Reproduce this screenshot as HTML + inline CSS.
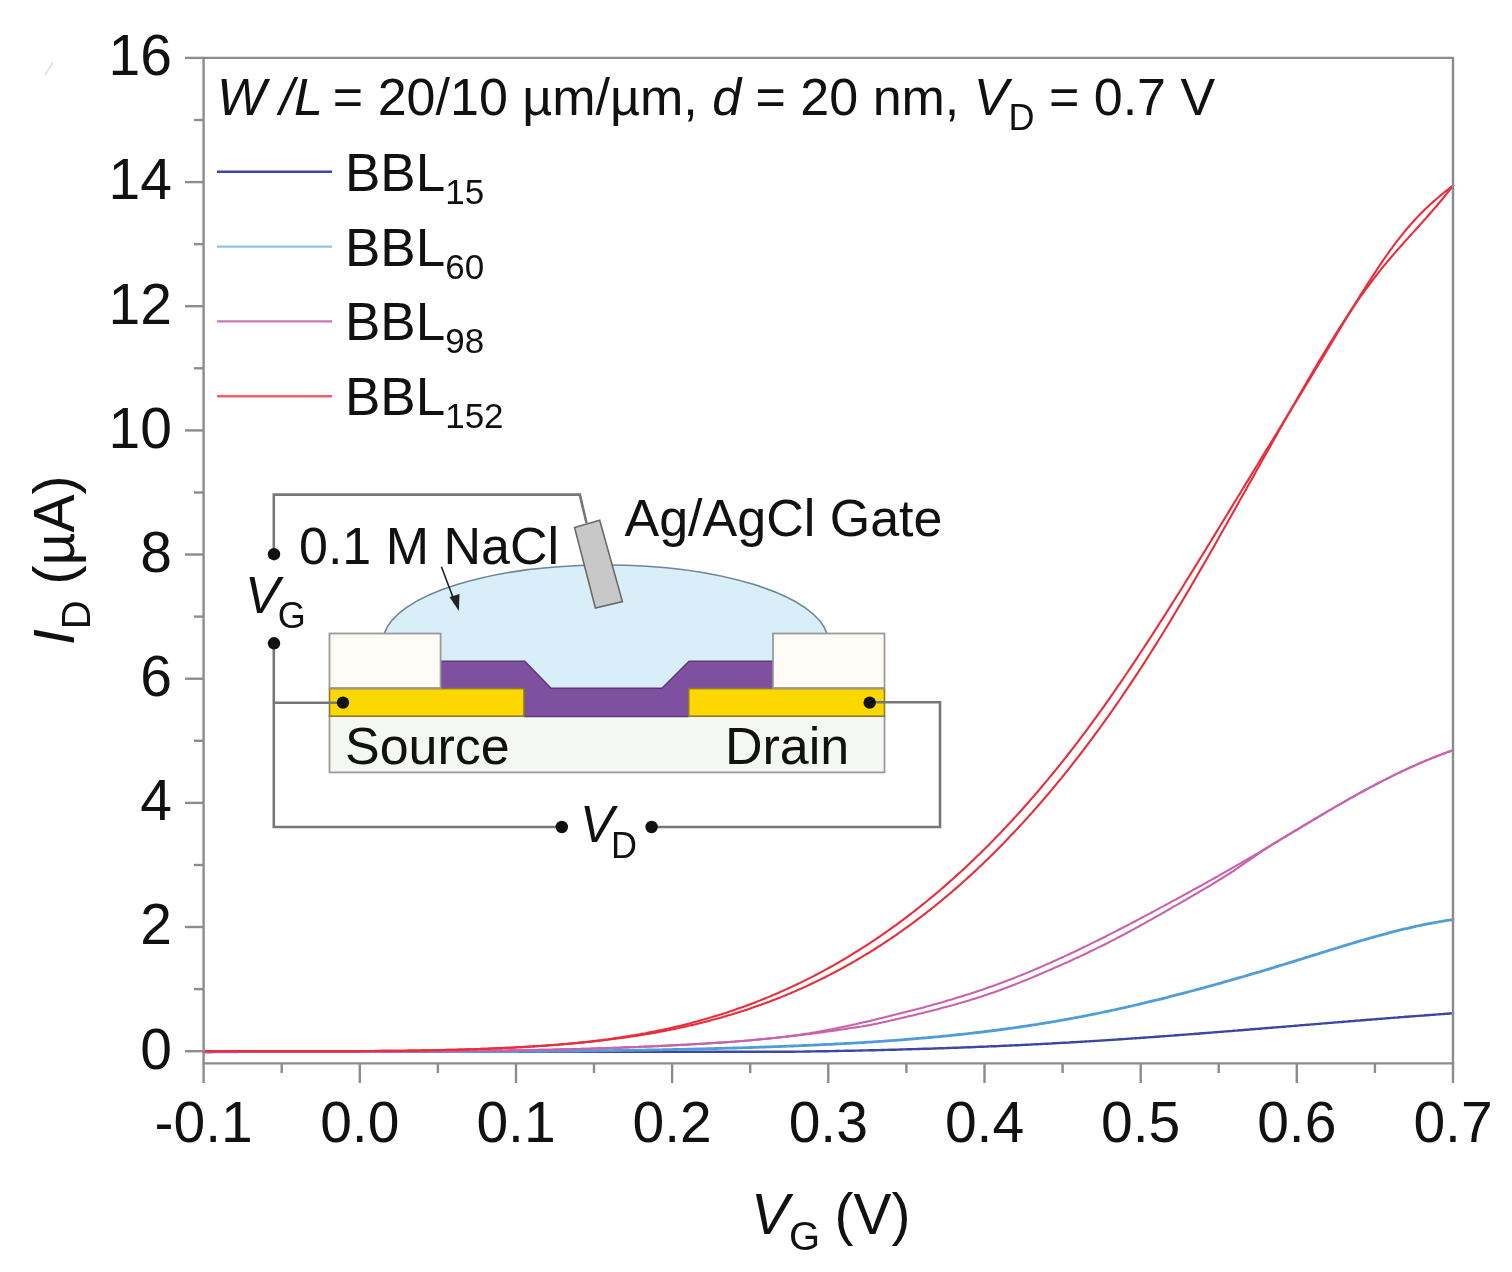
<!DOCTYPE html><html><head><meta charset="utf-8"><title>ID vs VG</title><style>html,body{margin:0;padding:0;background:#fff;overflow:hidden}svg{display:block}</style></head><body>
<svg width="1512" height="1272" viewBox="0 0 1512 1272" font-family="'Liberation Sans', Arial, Helvetica, sans-serif">
<rect width="1512" height="1272" fill="#fff"/>
<path d="M45 75 L53 62" stroke="#e6e6e6" stroke-width="2"/>
<path d="M384.3 633.5 A222.7 77 0 0 1 827 633.5 L827 690 L384.3 690 Z" fill="#d8eef9"/>
<path d="M384.3 633.5 A222.7 77 0 0 1 827 633.5" fill="none" stroke="#6d8596" stroke-width="1.6"/>
<rect x="329.5" y="716" width="555" height="56.4" fill="#f5f7f2" stroke="#9a9a9a" stroke-width="1.8"/>
<path d="M440.6 661.3 H524.8 L551 688.3 H662 L689 661.3 H773 V689 H688.7 V716.5 H524 V689 H440.6 Z" fill="#7f509f" stroke="#5a3a74" stroke-width="1.5" stroke-linejoin="round"/>
<rect x="329.5" y="688.6" width="194.5" height="27.6" fill="#fdd800" stroke="#8c7c2c" stroke-width="1.6"/>
<rect x="688.7" y="688.6" width="195.8" height="27.6" fill="#fdd800" stroke="#8c7c2c" stroke-width="1.6"/>
<rect x="329.5" y="633.5" width="111.1" height="54.5" fill="#fefcf5" stroke="#9a9a9a" stroke-width="1.8"/>
<rect x="773" y="633.5" width="111.5" height="54.5" fill="#fefcf5" stroke="#9a9a9a" stroke-width="1.8"/>
<g fill="none" stroke="#777" stroke-width="2.6" stroke-linejoin="miter">
<path d="M273.8 554 V494.6 H579.8 L586.5 523"/>
<path d="M273.8 644 V827 H561"/>
<path d="M652 827 H940 V702.3 H870"/>
<path d="M273.5 702.8 H343"/>
</g>
<path d="M574.6 527.6 L599.7 520.2 L622.4 601.6 L595.4 608 Z" fill="#c8c8c8" stroke="#6a6a6a" stroke-width="1.6"/>
<path d="M441.4 566.7 L454 600" stroke="#222" stroke-width="1.6" fill="none"/>
<path d="M449.5 597 L458.9 611 L459.5 594 Z" fill="#222"/>
<circle cx="274" cy="554.2" r="6.2" fill="#111"/>
<circle cx="274" cy="643.3" r="6.2" fill="#111"/>
<circle cx="343" cy="702.6" r="6.2" fill="#111"/>
<circle cx="869.7" cy="702.6" r="6.2" fill="#111"/>
<circle cx="561.8" cy="827" r="6.2" fill="#111"/>
<circle cx="651.6" cy="827" r="6.2" fill="#111"/>
<g fill="#111" font-size="52">
<text x="299" y="563.5">0.1 M NaCl</text>
<text x="624.5" y="536">Ag/AgCl Gate</text>
<text x="345" y="763.5">Source</text>
<text x="725" y="763.5">Drain</text>
<text x="245" y="612.5"><tspan font-style="italic">V</tspan><tspan font-size="36" dy="15" dx="-2">G</tspan></text>
<text x="580" y="842.3" font-size="51"><tspan font-style="italic">V</tspan><tspan font-size="36" dy="15.5" dx="-3">D</tspan></text>
</g>
<g fill="none" stroke-linejoin="round" stroke-linecap="round">
<path d="M203.6 1052.0L205.6 1052.0L207.6 1052.0L209.6 1052.0L211.6 1052.0L213.6 1051.9L215.6 1051.9L217.6 1051.9L219.6 1051.9L221.6 1051.9L223.6 1051.9L225.6 1051.9L227.6 1051.9L229.6 1051.9L231.6 1051.9L233.6 1051.9L235.6 1051.8L237.6 1051.8L239.6 1051.8L241.6 1051.8L243.6 1051.8L245.6 1051.8L247.6 1051.8L249.6 1051.8L251.6 1051.8L253.6 1051.8L255.6 1051.8L257.6 1051.8L259.6 1051.8L261.6 1051.8L263.6 1051.8L265.6 1051.7L267.6 1051.7L269.6 1051.7L271.6 1051.7L273.6 1051.7L275.6 1051.7L277.6 1051.7L279.6 1051.7L281.6 1051.7L283.6 1051.7L285.6 1051.7L287.6 1051.7L289.6 1051.7L291.6 1051.7L293.6 1051.7L295.6 1051.7L297.6 1051.7L299.6 1051.7L301.6 1051.7L303.6 1051.7L305.6 1051.7L307.6 1051.7L309.6 1051.7L311.6 1051.7L313.6 1051.7L315.6 1051.7L317.6 1051.7L319.6 1051.7L321.6 1051.7L323.6 1051.7L325.6 1051.7L327.6 1051.7L329.6 1051.7L331.6 1051.7L333.6 1051.7L335.6 1051.7L337.6 1051.7L339.6 1051.7L341.6 1051.7L343.6 1051.7L345.6 1051.7L347.6 1051.7L349.6 1051.7L351.6 1051.7L353.6 1051.7L355.6 1051.7L357.6 1051.7L359.6 1051.7L361.6 1051.7L363.6 1051.7L365.6 1051.7L367.6 1051.7L369.6 1051.7L371.6 1051.7L373.6 1051.7L375.6 1051.7L377.6 1051.7L379.6 1051.7L381.6 1051.7L383.6 1051.7L385.6 1051.7L387.6 1051.7L389.6 1051.7L391.6 1051.7L393.6 1051.7L395.6 1051.7L397.6 1051.7L399.6 1051.7L401.6 1051.7L403.6 1051.7L405.6 1051.7L407.6 1051.7L409.6 1051.7L411.6 1051.7L413.6 1051.7L415.6 1051.7L417.6 1051.7L419.6 1051.7L421.6 1051.7L423.6 1051.7L425.6 1051.7L427.6 1051.7L429.6 1051.7L431.6 1051.7L433.6 1051.7L435.6 1051.7L437.6 1051.7L439.6 1051.7L441.6 1051.7L443.6 1051.7L445.6 1051.7L447.6 1051.7L449.6 1051.7L451.6 1051.7L453.6 1051.7L455.6 1051.7L457.6 1051.7L459.6 1051.7L461.6 1051.7L463.6 1051.7L465.6 1051.7L467.6 1051.7L469.6 1051.7L471.6 1051.7L473.6 1051.7L475.6 1051.7L477.6 1051.7L479.6 1051.7L481.6 1051.7L483.6 1051.7L485.6 1051.7L487.6 1051.7L489.6 1051.7L491.6 1051.7L493.6 1051.7L495.6 1051.7L497.6 1051.7L499.6 1051.7L501.6 1051.7L503.6 1051.7L505.6 1051.7L507.6 1051.7L509.6 1051.7L511.6 1051.7L513.6 1051.7L515.6 1051.7L517.6 1051.7L519.6 1051.7L521.6 1051.7L523.6 1051.7L525.6 1051.7L527.6 1051.7L529.6 1051.7L531.6 1051.7L533.6 1051.7L535.6 1051.7L537.6 1051.7L539.6 1051.7L541.6 1051.7L543.6 1051.7L545.6 1051.7L547.6 1051.7L549.6 1051.7L551.6 1051.7L553.6 1051.7L555.6 1051.7L557.6 1051.7L559.6 1051.7L561.6 1051.7L563.6 1051.7L565.6 1051.7L567.6 1051.7L569.6 1051.7L571.6 1051.7L573.6 1051.7L575.6 1051.7L577.6 1051.7L579.6 1051.7L581.6 1051.7L583.6 1051.7L585.6 1051.7L587.6 1051.7L589.6 1051.7L591.6 1051.7L593.6 1051.7L595.6 1051.7L597.6 1051.7L599.6 1051.7L601.6 1051.7L603.6 1051.7L605.6 1051.7L607.6 1051.7L609.6 1051.7L611.6 1051.7L613.6 1051.7L615.6 1051.7L617.6 1051.7L619.6 1051.7L621.6 1051.7L623.6 1051.7L625.6 1051.7L627.6 1051.7L629.6 1051.7L631.6 1051.7L633.6 1051.7L635.6 1051.7L637.6 1051.7L639.6 1051.7L641.6 1051.7L643.6 1051.7L645.6 1051.7L647.6 1051.7L649.6 1051.7L651.6 1051.7L653.6 1051.7L655.6 1051.7L657.6 1051.7L659.6 1051.7L661.6 1051.7L663.6 1051.7L665.6 1051.7L667.6 1051.7L669.6 1051.7L671.6 1051.7L673.6 1051.7L675.6 1051.7L677.6 1051.7L679.6 1051.7L681.6 1051.7L683.6 1051.7L685.6 1051.7L687.6 1051.7L689.6 1051.7L691.6 1051.7L693.6 1051.7L695.6 1051.7L697.6 1051.7L699.6 1051.7L701.6 1051.7L703.6 1051.7L705.6 1051.7L707.6 1051.7L709.6 1051.7L711.6 1051.7L713.6 1051.7L715.6 1051.7L717.6 1051.7L719.6 1051.7L721.6 1051.7L723.6 1051.7L725.6 1051.7L727.6 1051.7L729.6 1051.7L731.6 1051.7L733.6 1051.7L735.6 1051.7L737.6 1051.7L739.6 1051.7L741.6 1051.7L743.6 1051.7L745.6 1051.7L747.6 1051.7L749.6 1051.7L751.6 1051.7L753.6 1051.7L755.6 1051.7L757.6 1051.7L759.6 1051.7L761.6 1051.7L763.6 1051.7L765.6 1051.7L767.6 1051.7L769.6 1051.7L771.6 1051.7L773.6 1051.7L775.6 1051.7L777.6 1051.7L779.6 1051.7L781.6 1051.7L783.6 1051.7L785.6 1051.7L787.6 1051.7L789.6 1051.7L791.6 1051.7L793.6 1051.7L795.6 1051.6L797.6 1051.6L799.6 1051.6L801.6 1051.6L803.6 1051.6L805.6 1051.5L807.6 1051.5L809.6 1051.5L811.6 1051.4L813.6 1051.4L815.6 1051.4L817.6 1051.3L819.6 1051.3L821.6 1051.3L823.6 1051.2L825.6 1051.2L827.6 1051.2L829.6 1051.1L831.6 1051.1L833.6 1051.1L835.6 1051.0L837.6 1051.0L839.6 1050.9L841.6 1050.9L843.6 1050.9L845.6 1050.8L847.6 1050.8L849.6 1050.7L851.6 1050.7L853.6 1050.7L855.6 1050.6L857.6 1050.6L859.6 1050.5L861.6 1050.5L863.6 1050.4L865.6 1050.4L867.6 1050.4L869.6 1050.3L871.6 1050.3L873.6 1050.2L875.6 1050.2L877.6 1050.1L879.6 1050.1L881.6 1050.0L883.6 1050.0L885.6 1049.9L887.6 1049.9L889.6 1049.8L891.6 1049.8L893.6 1049.7L895.6 1049.7L897.6 1049.6L899.6 1049.5L901.6 1049.5L903.6 1049.4L905.6 1049.4L907.6 1049.3L909.6 1049.3L911.6 1049.2L913.6 1049.1L915.6 1049.1L917.6 1049.0L919.6 1049.0L921.6 1048.9L923.6 1048.8L925.6 1048.8L927.6 1048.7L929.6 1048.7L931.6 1048.6L933.6 1048.5L935.6 1048.5L937.6 1048.4L939.6 1048.3L941.6 1048.3L943.6 1048.2L945.6 1048.1L947.6 1048.0L949.6 1048.0L951.6 1047.9L953.6 1047.8L955.6 1047.8L957.6 1047.7L959.6 1047.6L961.6 1047.5L963.6 1047.5L965.6 1047.4L967.6 1047.3L969.6 1047.2L971.6 1047.2L973.6 1047.1L975.6 1047.0L977.6 1046.9L979.6 1046.8L981.6 1046.8L983.6 1046.7L985.6 1046.6L987.6 1046.5L989.6 1046.4L991.6 1046.3L993.6 1046.3L995.6 1046.2L997.6 1046.1L999.6 1046.0L1001.6 1045.9L1003.6 1045.8L1005.6 1045.7L1007.6 1045.6L1009.6 1045.5L1011.6 1045.5L1013.6 1045.4L1015.6 1045.3L1017.6 1045.2L1019.6 1045.1L1021.6 1045.0L1023.6 1044.9L1025.6 1044.8L1027.6 1044.7L1029.6 1044.6L1031.6 1044.5L1033.6 1044.4L1035.6 1044.3L1037.6 1044.2L1039.6 1044.1L1041.6 1044.0L1043.6 1043.9L1045.6 1043.8L1047.6 1043.7L1049.6 1043.6L1051.6 1043.5L1053.6 1043.3L1055.6 1043.2L1057.6 1043.1L1059.6 1043.0L1061.6 1042.9L1063.6 1042.8L1065.6 1042.7L1067.6 1042.6L1069.6 1042.5L1071.6 1042.3L1073.6 1042.2L1075.6 1042.1L1077.6 1042.0L1079.6 1041.9L1081.6 1041.7L1083.6 1041.6L1085.6 1041.5L1087.6 1041.4L1089.6 1041.3L1091.6 1041.1L1093.6 1041.0L1095.6 1040.9L1097.6 1040.8L1099.6 1040.6L1101.6 1040.5L1103.6 1040.4L1105.6 1040.3L1107.6 1040.1L1109.6 1040.0L1111.6 1039.9L1113.6 1039.7L1115.6 1039.6L1117.6 1039.5L1119.6 1039.3L1121.6 1039.2L1123.6 1039.1L1125.6 1038.9L1127.6 1038.8L1129.6 1038.6L1131.6 1038.5L1133.6 1038.4L1135.6 1038.2L1137.6 1038.1L1139.6 1038.0L1141.6 1037.8L1143.6 1037.7L1145.6 1037.5L1147.6 1037.4L1149.6 1037.2L1151.6 1037.1L1153.6 1037.0L1155.6 1036.8L1157.6 1036.7L1159.6 1036.5L1161.6 1036.4L1163.6 1036.2L1165.6 1036.1L1167.6 1035.9L1169.6 1035.8L1171.6 1035.6L1173.6 1035.5L1175.6 1035.3L1177.6 1035.2L1179.6 1035.0L1181.6 1034.9L1183.6 1034.7L1185.6 1034.6L1187.6 1034.4L1189.6 1034.3L1191.6 1034.1L1193.6 1034.0L1195.6 1033.8L1197.6 1033.7L1199.6 1033.5L1201.6 1033.3L1203.6 1033.2L1205.6 1033.0L1207.6 1032.9L1209.6 1032.7L1211.6 1032.6L1213.6 1032.4L1215.6 1032.2L1217.6 1032.1L1219.6 1031.9L1221.6 1031.8L1223.6 1031.6L1225.6 1031.4L1227.6 1031.3L1229.6 1031.1L1231.6 1031.0L1233.6 1030.8L1235.6 1030.6L1237.6 1030.5L1239.6 1030.3L1241.6 1030.2L1243.6 1030.0L1245.6 1029.8L1247.6 1029.7L1249.6 1029.5L1251.6 1029.3L1253.6 1029.2L1255.6 1029.0L1257.6 1028.9L1259.6 1028.7L1261.6 1028.5L1263.6 1028.4L1265.6 1028.2L1267.6 1028.0L1269.6 1027.9L1271.6 1027.7L1273.6 1027.5L1275.6 1027.4L1277.6 1027.2L1279.6 1027.1L1281.6 1026.9L1283.6 1026.7L1285.6 1026.6L1287.6 1026.4L1289.6 1026.2L1291.6 1026.1L1293.6 1025.9L1295.6 1025.7L1297.6 1025.6L1299.6 1025.4L1301.6 1025.2L1303.6 1025.1L1305.6 1024.9L1307.6 1024.7L1309.6 1024.6L1311.6 1024.4L1313.6 1024.3L1315.6 1024.1L1317.6 1023.9L1319.6 1023.8L1321.6 1023.6L1323.6 1023.4L1325.6 1023.3L1327.6 1023.1L1329.6 1022.9L1331.6 1022.8L1333.6 1022.6L1335.6 1022.4L1337.6 1022.3L1339.6 1022.1L1341.6 1022.0L1343.6 1021.8L1345.6 1021.6L1347.6 1021.5L1349.6 1021.3L1351.6 1021.1L1353.6 1021.0L1355.6 1020.8L1357.6 1020.6L1359.6 1020.5L1361.6 1020.3L1363.6 1020.2L1365.6 1020.0L1367.6 1019.8L1369.6 1019.7L1371.6 1019.5L1373.6 1019.4L1375.6 1019.2L1377.6 1019.0L1379.6 1018.9L1381.6 1018.7L1383.6 1018.6L1385.6 1018.4L1387.6 1018.2L1389.6 1018.1L1391.6 1017.9L1393.6 1017.8L1395.6 1017.6L1397.6 1017.5L1399.6 1017.3L1401.6 1017.1L1403.6 1017.0L1405.6 1016.8L1407.6 1016.7L1409.6 1016.5L1411.6 1016.4L1413.6 1016.2L1415.6 1016.1L1417.6 1015.9L1419.6 1015.8L1421.6 1015.6L1423.6 1015.5L1425.6 1015.3L1427.6 1015.2L1429.6 1015.0L1431.6 1014.9L1433.6 1014.7L1435.6 1014.6L1437.6 1014.4L1439.6 1014.3L1441.6 1014.1L1443.6 1014.0L1445.6 1013.8L1447.6 1013.7L1449.6 1013.5L1451.6 1013.4L1453.0 1013.3" stroke="#3b47a3" stroke-width="2.4"/>
<path d="M203.6 1051.8L205.6 1051.8L207.6 1051.8L209.6 1051.8L211.6 1051.8L213.6 1051.8L215.6 1051.8L217.6 1051.8L219.6 1051.8L221.6 1051.8L223.6 1051.8L225.6 1051.8L227.6 1051.8L229.6 1051.8L231.6 1051.8L233.6 1051.8L235.6 1051.8L237.6 1051.8L239.6 1051.7L241.6 1051.7L243.6 1051.7L245.6 1051.7L247.6 1051.7L249.6 1051.7L251.6 1051.7L253.6 1051.7L255.6 1051.7L257.6 1051.7L259.6 1051.7L261.6 1051.7L263.6 1051.7L265.6 1051.7L267.6 1051.7L269.6 1051.7L271.6 1051.7L273.6 1051.7L275.6 1051.7L277.6 1051.7L279.6 1051.7L281.6 1051.7L283.6 1051.7L285.6 1051.7L287.6 1051.7L289.6 1051.7L291.6 1051.7L293.6 1051.7L295.6 1051.7L297.6 1051.7L299.6 1051.7L301.6 1051.7L303.6 1051.7L305.6 1051.7L307.6 1051.7L309.6 1051.7L311.6 1051.7L313.6 1051.7L315.6 1051.7L317.6 1051.7L319.6 1051.7L321.6 1051.7L323.6 1051.7L325.6 1051.7L327.6 1051.7L329.6 1051.7L331.6 1051.7L333.6 1051.7L335.6 1051.7L337.6 1051.7L339.6 1051.7L341.6 1051.7L343.6 1051.7L345.6 1051.7L347.6 1051.7L349.6 1051.7L351.6 1051.7L353.6 1051.7L355.6 1051.7L357.6 1051.7L359.6 1051.7L361.6 1051.7L363.6 1051.7L365.6 1051.7L367.6 1051.7L369.6 1051.7L371.6 1051.7L373.6 1051.7L375.6 1051.7L377.6 1051.7L379.6 1051.7L381.6 1051.7L383.6 1051.7L385.6 1051.7L387.6 1051.7L389.6 1051.7L391.6 1051.7L393.6 1051.7L395.6 1051.7L397.6 1051.7L399.6 1051.7L401.6 1051.7L403.6 1051.7L405.6 1051.7L407.6 1051.7L409.6 1051.7L411.6 1051.7L413.6 1051.7L415.6 1051.7L417.6 1051.7L419.6 1051.7L421.6 1051.7L423.6 1051.7L425.6 1051.7L427.6 1051.7L429.6 1051.7L431.6 1051.7L433.6 1051.7L435.6 1051.7L437.6 1051.7L439.6 1051.7L441.6 1051.7L443.6 1051.7L445.6 1051.7L447.6 1051.7L449.6 1051.7L451.6 1051.7L453.6 1051.7L455.6 1051.7L457.6 1051.7L459.6 1051.7L461.6 1051.7L463.6 1051.7L465.6 1051.7L467.6 1051.7L469.6 1051.6L471.6 1051.6L473.6 1051.6L475.6 1051.6L477.6 1051.6L479.6 1051.6L481.6 1051.6L483.6 1051.6L485.6 1051.6L487.6 1051.6L489.6 1051.6L491.6 1051.6L493.6 1051.6L495.6 1051.6L497.6 1051.6L499.6 1051.5L501.6 1051.5L503.6 1051.5L505.6 1051.5L507.6 1051.5L509.6 1051.5L511.6 1051.5L513.6 1051.5L515.6 1051.5L517.6 1051.5L519.6 1051.4L521.6 1051.4L523.6 1051.4L525.6 1051.4L527.6 1051.4L529.6 1051.4L531.6 1051.4L533.6 1051.4L535.6 1051.3L537.6 1051.3L539.6 1051.3L541.6 1051.3L543.6 1051.3L545.6 1051.3L547.6 1051.3L549.6 1051.2L551.6 1051.2L553.6 1051.2L555.6 1051.2L557.6 1051.2L559.6 1051.2L561.6 1051.1L563.6 1051.1L565.6 1051.1L567.6 1051.1L569.6 1051.1L571.6 1051.0L573.6 1051.0L575.6 1051.0L577.6 1051.0L579.6 1051.0L581.6 1050.9L583.6 1050.9L585.6 1050.9L587.6 1050.9L589.6 1050.9L591.6 1050.8L593.6 1050.8L595.6 1050.8L597.6 1050.8L599.6 1050.7L601.6 1050.7L603.6 1050.7L605.6 1050.7L607.6 1050.6L609.6 1050.6L611.6 1050.6L613.6 1050.6L615.6 1050.5L617.6 1050.5L619.6 1050.5L621.6 1050.4L623.6 1050.4L625.6 1050.4L627.6 1050.3L629.6 1050.3L631.6 1050.3L633.6 1050.3L635.6 1050.2L637.6 1050.2L639.6 1050.2L641.6 1050.1L643.6 1050.1L645.6 1050.1L647.6 1050.0L649.6 1050.0L651.6 1049.9L653.6 1049.9L655.6 1049.9L657.6 1049.8L659.6 1049.8L661.6 1049.8L663.6 1049.7L665.6 1049.7L667.6 1049.6L669.6 1049.6L671.6 1049.6L673.6 1049.5L675.6 1049.5L677.6 1049.4L679.6 1049.4L681.6 1049.3L683.6 1049.3L685.6 1049.3L687.6 1049.2L689.6 1049.2L691.6 1049.1L693.6 1049.1L695.6 1049.0L697.6 1049.0L699.6 1048.9L701.6 1048.9L703.6 1048.8L705.6 1048.8L707.6 1048.7L709.6 1048.7L711.6 1048.6L713.6 1048.6L715.6 1048.5L717.6 1048.5L719.6 1048.4L721.6 1048.4L723.6 1048.3L725.6 1048.2L727.6 1048.2L729.6 1048.1L731.6 1048.1L733.6 1048.0L735.6 1048.0L737.6 1047.9L739.6 1047.8L741.6 1047.8L743.6 1047.7L745.6 1047.7L747.6 1047.6L749.6 1047.5L751.6 1047.5L753.6 1047.4L755.6 1047.3L757.6 1047.3L759.6 1047.2L761.6 1047.1L763.6 1047.1L765.6 1047.0L767.6 1046.9L769.6 1046.9L771.6 1046.8L773.6 1046.7L775.6 1046.6L777.6 1046.6L779.6 1046.5L781.6 1046.4L783.6 1046.4L785.6 1046.3L787.6 1046.2L789.6 1046.1L791.6 1046.0L793.6 1046.0L795.6 1045.9L797.6 1045.8L799.6 1045.7L801.6 1045.6L803.6 1045.5L805.6 1045.5L807.6 1045.4L809.6 1045.3L811.6 1045.2L813.6 1045.1L815.6 1045.0L817.6 1044.9L819.6 1044.8L821.6 1044.7L823.6 1044.6L825.6 1044.5L827.6 1044.4L829.6 1044.4L831.6 1044.3L833.6 1044.1L835.6 1044.0L837.6 1043.9L839.6 1043.8L841.6 1043.7L843.6 1043.6L845.6 1043.5L847.6 1043.4L849.6 1043.3L851.6 1043.2L853.6 1043.1L855.6 1042.9L857.6 1042.8L859.6 1042.7L861.6 1042.6L863.6 1042.5L865.6 1042.3L867.6 1042.2L869.6 1042.1L871.6 1042.0L873.6 1041.8L875.6 1041.7L877.6 1041.6L879.6 1041.4L881.6 1041.3L883.6 1041.2L885.6 1041.0L887.6 1040.9L889.6 1040.7L891.6 1040.6L893.6 1040.4L895.6 1040.3L897.6 1040.1L899.6 1040.0L901.6 1039.8L903.6 1039.7L905.6 1039.5L907.6 1039.4L909.6 1039.2L911.6 1039.0L913.6 1038.9L915.6 1038.7L917.6 1038.5L919.6 1038.4L921.6 1038.2L923.6 1038.0L925.6 1037.9L927.6 1037.7L929.6 1037.5L931.6 1037.3L933.6 1037.1L935.6 1036.9L937.6 1036.8L939.6 1036.6L941.6 1036.4L943.6 1036.2L945.6 1036.0L947.6 1035.8L949.6 1035.6L951.6 1035.4L953.6 1035.2L955.6 1035.0L957.6 1034.7L959.6 1034.5L961.6 1034.3L963.6 1034.1L965.6 1033.9L967.6 1033.7L969.6 1033.4L971.6 1033.2L973.6 1033.0L975.6 1032.7L977.6 1032.5L979.6 1032.3L981.6 1032.0L983.6 1031.8L985.6 1031.5L987.6 1031.3L989.6 1031.0L991.6 1030.8L993.6 1030.5L995.6 1030.3L997.6 1030.0L999.6 1029.8L1001.6 1029.5L1003.6 1029.2L1005.6 1029.0L1007.6 1028.7L1009.6 1028.4L1011.6 1028.1L1013.6 1027.9L1015.6 1027.6L1017.6 1027.3L1019.6 1027.0L1021.6 1026.7L1023.6 1026.4L1025.6 1026.1L1027.6 1025.8L1029.6 1025.5L1031.6 1025.2L1033.6 1024.9L1035.6 1024.6L1037.6 1024.3L1039.6 1023.9L1041.6 1023.6L1043.6 1023.3L1045.6 1023.0L1047.6 1022.6L1049.6 1022.3L1051.6 1022.0L1053.6 1021.6L1055.6 1021.3L1057.6 1020.9L1059.6 1020.6L1061.6 1020.2L1063.6 1019.9L1065.6 1019.5L1067.6 1019.2L1069.6 1018.8L1071.6 1018.4L1073.6 1018.1L1075.6 1017.7L1077.6 1017.3L1079.6 1016.9L1081.6 1016.6L1083.6 1016.2L1085.6 1015.8L1087.6 1015.4L1089.6 1015.0L1091.6 1014.6L1093.6 1014.2L1095.6 1013.8L1097.6 1013.4L1099.6 1013.0L1101.6 1012.5L1103.6 1012.1L1105.6 1011.7L1107.6 1011.3L1109.6 1010.9L1111.6 1010.4L1113.6 1010.0L1115.6 1009.6L1117.6 1009.1L1119.6 1008.7L1121.6 1008.2L1123.6 1007.8L1125.6 1007.3L1127.6 1006.9L1129.6 1006.4L1131.6 1006.0L1133.6 1005.5L1135.6 1005.0L1137.6 1004.6L1139.6 1004.1L1141.6 1003.6L1143.6 1003.2L1145.6 1002.7L1147.6 1002.2L1149.6 1001.7L1151.6 1001.2L1153.6 1000.7L1155.6 1000.2L1157.6 999.8L1159.6 999.3L1161.6 998.8L1163.6 998.3L1165.6 997.8L1167.6 997.3L1169.6 996.7L1171.6 996.2L1173.6 995.7L1175.6 995.2L1177.6 994.7L1179.6 994.2L1181.6 993.7L1183.6 993.1L1185.6 992.6L1187.6 992.1L1189.6 991.5L1191.6 991.0L1193.6 990.5L1195.6 989.9L1197.6 989.4L1199.6 988.9L1201.6 988.3L1203.6 987.8L1205.6 987.2L1207.6 986.7L1209.6 986.1L1211.6 985.6L1213.6 985.0L1215.6 984.5L1217.6 983.9L1219.6 983.3L1221.6 982.8L1223.6 982.2L1225.6 981.6L1227.6 981.1L1229.6 980.5L1231.6 979.9L1233.6 979.4L1235.6 978.8L1237.6 978.2L1239.6 977.6L1241.6 977.0L1243.6 976.5L1245.6 975.9L1247.6 975.3L1249.6 974.7L1251.6 974.1L1253.6 973.5L1255.6 972.9L1257.6 972.3L1259.6 971.8L1261.6 971.2L1263.6 970.6L1265.6 970.0L1267.6 969.4L1269.6 968.8L1271.6 968.2L1273.6 967.6L1275.6 966.9L1277.6 966.3L1279.6 965.7L1281.6 965.1L1283.6 964.5L1285.6 963.9L1287.6 963.3L1289.6 962.7L1291.6 962.1L1293.6 961.4L1295.6 960.8L1297.6 960.2L1299.6 959.6L1301.6 959.0L1303.6 958.3L1305.6 957.7L1307.6 957.1L1309.6 956.5L1311.6 955.8L1313.6 955.2L1315.6 954.6L1317.6 954.0L1319.6 953.3L1321.6 952.7L1323.6 952.1L1325.6 951.5L1327.6 950.9L1329.6 950.2L1331.6 949.6L1333.6 949.0L1335.6 948.4L1337.6 947.8L1339.6 947.1L1341.6 946.5L1343.6 945.9L1345.6 945.3L1347.6 944.7L1349.6 944.1L1351.6 943.5L1353.6 942.9L1355.6 942.3L1357.6 941.7L1359.6 941.1L1361.6 940.5L1363.6 940.0L1365.6 939.4L1367.6 938.8L1369.6 938.2L1371.6 937.7L1373.6 937.1L1375.6 936.5L1377.6 936.0L1379.6 935.4L1381.6 934.9L1383.6 934.3L1385.6 933.8L1387.6 933.3L1389.6 932.7L1391.6 932.2L1393.6 931.7L1395.6 931.2L1397.6 930.7L1399.6 930.2L1401.6 929.7L1403.6 929.2L1405.6 928.7L1407.6 928.3L1409.6 927.8L1411.6 927.3L1413.6 926.9L1415.6 926.4L1417.6 926.0L1419.6 925.6L1421.6 925.1L1423.6 924.7L1425.6 924.3L1427.6 923.9L1429.6 923.5L1431.6 923.2L1433.6 922.8L1435.6 922.4L1437.6 922.1L1439.6 921.7L1441.6 921.4L1443.6 921.0L1445.6 920.7L1447.6 920.4L1449.6 920.1L1451.6 919.8L1453.0 919.6" stroke="#4f9dd8" stroke-width="2.8"/>
<path d="M203.6 1051.6L205.6 1051.6L207.6 1051.6L209.6 1051.6L211.6 1051.6L213.6 1051.6L215.6 1051.6L217.6 1051.6L219.6 1051.6L221.6 1051.6L223.6 1051.6L225.6 1051.6L227.6 1051.6L229.6 1051.6L231.6 1051.6L233.6 1051.5L235.6 1051.5L237.6 1051.5L239.6 1051.5L241.6 1051.5L243.6 1051.5L245.6 1051.5L247.6 1051.5L249.6 1051.5L251.6 1051.5L253.6 1051.5L255.6 1051.5L257.6 1051.5L259.6 1051.5L261.6 1051.5L263.6 1051.5L265.6 1051.5L267.6 1051.5L269.6 1051.5L271.6 1051.5L273.6 1051.5L275.6 1051.5L277.6 1051.5L279.6 1051.5L281.6 1051.5L283.6 1051.5L285.6 1051.5L287.6 1051.5L289.6 1051.5L291.6 1051.5L293.6 1051.5L295.6 1051.5L297.6 1051.5L299.6 1051.5L301.6 1051.5L303.6 1051.5L305.6 1051.5L307.6 1051.5L309.6 1051.5L311.6 1051.5L313.6 1051.5L315.6 1051.5L317.6 1051.5L319.6 1051.5L321.6 1051.5L323.6 1051.5L325.6 1051.5L327.6 1051.5L329.6 1051.5L331.6 1051.5L333.6 1051.5L335.6 1051.5L337.6 1051.5L339.6 1051.5L341.6 1051.5L343.6 1051.5L345.6 1051.4L347.6 1051.4L349.6 1051.4L351.6 1051.4L353.6 1051.4L355.6 1051.4L357.6 1051.4L359.6 1051.4L361.6 1051.4L363.6 1051.4L365.6 1051.4L367.6 1051.4L369.6 1051.4L371.6 1051.4L373.6 1051.4L375.6 1051.4L377.6 1051.4L379.6 1051.4L381.6 1051.4L383.6 1051.4L385.6 1051.4L387.6 1051.4L389.6 1051.4L391.6 1051.4L393.6 1051.4L395.6 1051.4L397.6 1051.4L399.6 1051.4L401.6 1051.4L403.6 1051.3L405.6 1051.3L407.6 1051.3L409.6 1051.3L411.6 1051.3L413.6 1051.3L415.6 1051.3L417.6 1051.3L419.6 1051.3L421.6 1051.3L423.6 1051.3L425.6 1051.3L427.6 1051.2L429.6 1051.2L431.6 1051.2L433.6 1051.2L435.6 1051.2L437.6 1051.2L439.6 1051.2L441.6 1051.2L443.6 1051.1L445.6 1051.1L447.6 1051.1L449.6 1051.1L451.6 1051.1L453.6 1051.1L455.6 1051.1L457.6 1051.0L459.6 1051.0L461.6 1051.0L463.6 1051.0L465.6 1051.0L467.6 1051.0L469.6 1050.9L471.6 1050.9L473.6 1050.9L475.6 1050.9L477.6 1050.9L479.6 1050.8L481.6 1050.8L483.6 1050.8L485.6 1050.8L487.6 1050.7L489.6 1050.7L491.6 1050.7L493.6 1050.7L495.6 1050.6L497.6 1050.6L499.6 1050.6L501.6 1050.6L503.6 1050.5L505.6 1050.5L507.6 1050.5L509.6 1050.4L511.6 1050.4L513.6 1050.4L515.6 1050.3L517.6 1050.3L519.6 1050.3L521.6 1050.2L523.6 1050.2L525.6 1050.2L527.6 1050.1L529.6 1050.1L531.6 1050.1L533.6 1050.0L535.6 1050.0L537.6 1050.0L539.6 1049.9L541.6 1049.9L543.6 1049.8L545.6 1049.8L547.6 1049.7L549.6 1049.7L551.6 1049.7L553.6 1049.6L555.6 1049.6L557.6 1049.5L559.6 1049.5L561.6 1049.4L563.6 1049.4L565.6 1049.3L567.6 1049.3L569.6 1049.2L571.6 1049.2L573.6 1049.1L575.6 1049.1L577.6 1049.0L579.6 1049.0L581.6 1048.9L583.6 1048.8L585.6 1048.8L587.6 1048.7L589.6 1048.7L591.6 1048.6L593.6 1048.5L595.6 1048.5L597.6 1048.4L599.6 1048.4L601.6 1048.3L603.6 1048.2L605.6 1048.2L607.6 1048.1L609.6 1048.0L611.6 1048.0L613.6 1047.9L615.6 1047.8L617.6 1047.7L619.6 1047.7L621.6 1047.6L623.6 1047.5L625.6 1047.4L627.6 1047.4L629.6 1047.3L631.6 1047.2L633.6 1047.1L635.6 1047.0L637.6 1047.0L639.6 1046.9L641.6 1046.8L643.6 1046.7L645.6 1046.6L647.6 1046.5L649.6 1046.5L651.6 1046.4L653.6 1046.3L655.6 1046.2L657.6 1046.1L659.6 1046.0L661.6 1045.9L663.6 1045.8L665.6 1045.7L667.6 1045.6L669.6 1045.5L671.6 1045.4L673.6 1045.3L675.6 1045.2L677.6 1045.1L679.6 1045.0L681.6 1044.9L683.6 1044.8L685.6 1044.7L687.6 1044.6L689.6 1044.5L691.6 1044.3L693.6 1044.2L695.6 1044.1L697.6 1044.0L699.6 1043.9L701.6 1043.8L703.6 1043.7L705.6 1043.5L707.6 1043.4L709.6 1043.3L711.6 1043.2L713.6 1043.0L715.6 1042.9L717.6 1042.8L719.6 1042.6L721.6 1042.5L723.6 1042.4L725.6 1042.2L727.6 1042.1L729.6 1042.0L731.6 1041.8L733.6 1041.7L735.6 1041.5L737.6 1041.3L739.6 1041.2L741.6 1041.0L743.6 1040.9L745.6 1040.7L747.6 1040.5L749.6 1040.4L751.6 1040.2L753.6 1040.0L755.6 1039.8L757.6 1039.6L759.6 1039.4L761.6 1039.2L763.6 1039.0L765.6 1038.9L767.6 1038.7L769.6 1038.5L771.6 1038.3L773.6 1038.0L775.6 1037.8L777.6 1037.6L779.6 1037.4L781.6 1037.2L783.6 1037.0L785.6 1036.8L787.6 1036.6L789.6 1036.3L791.6 1036.1L793.6 1035.9L795.6 1035.7L797.6 1035.4L799.6 1035.2L801.6 1035.0L803.6 1034.7L805.6 1034.5L807.6 1034.2L809.6 1034.0L811.6 1033.7L813.6 1033.5L815.6 1033.2L817.6 1032.9L819.6 1032.7L821.6 1032.4L823.6 1032.1L825.6 1031.8L827.6 1031.5L829.6 1031.2L831.6 1030.9L833.6 1030.7L835.6 1030.4L837.6 1030.1L839.6 1029.8L841.6 1029.5L843.6 1029.2L845.6 1028.9L847.6 1028.6L849.6 1028.3L851.6 1028.0L853.6 1027.7L855.6 1027.4L857.6 1027.1L859.6 1026.8L861.6 1026.5L863.6 1026.1L865.6 1025.8L867.6 1025.4L869.6 1025.1L871.6 1024.7L873.6 1024.3L875.6 1023.9L877.6 1023.5L879.6 1023.0L881.6 1022.6L883.6 1022.1L885.6 1021.7L887.6 1021.2L889.6 1020.8L891.6 1020.3L893.6 1019.9L895.6 1019.4L897.6 1019.0L899.6 1018.5L901.6 1018.0L903.6 1017.5L905.6 1017.1L907.6 1016.6L909.6 1016.1L911.6 1015.7L913.6 1015.2L915.6 1014.7L917.6 1014.2L919.6 1013.7L921.6 1013.2L923.6 1012.7L925.6 1012.2L927.6 1011.7L929.6 1011.2L931.6 1010.7L933.6 1010.2L935.6 1009.7L937.6 1009.2L939.6 1008.7L941.6 1008.1L943.6 1007.6L945.6 1007.1L947.6 1006.5L949.6 1006.0L951.6 1005.4L953.6 1004.9L955.6 1004.3L957.6 1003.8L959.6 1003.2L961.6 1002.6L963.6 1002.1L965.6 1001.5L967.6 1000.9L969.6 1000.3L971.6 999.6L973.6 999.0L975.6 998.4L977.6 997.8L979.6 997.1L981.6 996.5L983.6 995.8L985.6 995.1L987.6 994.5L989.6 993.8L991.6 993.1L993.6 992.4L995.6 991.7L997.6 991.0L999.6 990.3L1001.6 989.5L1003.6 988.8L1005.6 988.1L1007.6 987.3L1009.6 986.5L1011.6 985.8L1013.6 985.0L1015.6 984.2L1017.6 983.4L1019.6 982.6L1021.6 981.8L1023.6 981.0L1025.6 980.2L1027.6 979.4L1029.6 978.6L1031.6 977.7L1033.6 976.9L1035.6 976.0L1037.6 975.2L1039.6 974.3L1041.6 973.5L1043.6 972.6L1045.6 971.8L1047.6 970.9L1049.6 970.0L1051.6 969.2L1053.6 968.3L1055.6 967.4L1057.6 966.5L1059.6 965.7L1061.6 964.8L1063.6 963.9L1065.6 963.0L1067.6 962.1L1069.6 961.2L1071.6 960.3L1073.6 959.3L1075.6 958.4L1077.6 957.5L1079.6 956.6L1081.6 955.6L1083.6 954.7L1085.6 953.7L1087.6 952.8L1089.6 951.8L1091.6 950.8L1093.6 949.9L1095.6 948.9L1097.6 947.9L1099.6 946.9L1101.6 946.0L1103.6 945.0L1105.6 944.0L1107.6 943.0L1109.6 941.9L1111.6 940.9L1113.6 939.9L1115.6 938.9L1117.6 937.8L1119.6 936.8L1121.6 935.7L1123.6 934.7L1125.6 933.6L1127.6 932.5L1129.6 931.5L1131.6 930.4L1133.6 929.3L1135.6 928.2L1137.6 927.1L1139.6 926.0L1141.6 924.9L1143.6 923.8L1145.6 922.7L1147.6 921.5L1149.6 920.4L1151.6 919.3L1153.6 918.2L1155.6 917.0L1157.6 915.9L1159.6 914.8L1161.6 913.6L1163.6 912.5L1165.6 911.3L1167.6 910.2L1169.6 909.0L1171.6 907.9L1173.6 906.7L1175.6 905.6L1177.6 904.4L1179.6 903.3L1181.6 902.1L1183.6 901.0L1185.6 899.8L1187.6 898.7L1189.6 897.5L1191.6 896.4L1193.6 895.2L1195.6 894.0L1197.6 892.9L1199.6 891.7L1201.6 890.5L1203.6 889.3L1205.6 888.2L1207.6 887.0L1209.6 885.8L1211.6 884.6L1213.6 883.4L1215.6 882.1L1217.6 880.9L1219.6 879.7L1221.6 878.5L1223.6 877.2L1225.6 876.0L1227.6 874.7L1229.6 873.5L1231.6 872.2L1233.6 870.8L1235.6 869.5L1237.6 868.1L1239.6 866.7L1241.6 865.3L1243.6 863.9L1245.6 862.5L1247.6 861.1L1249.6 859.8L1251.6 858.4L1253.6 857.1L1255.6 855.7L1257.6 854.3L1259.6 852.9L1261.6 851.6L1263.6 850.2L1265.6 848.9L1267.6 847.6L1269.6 846.3L1271.6 845.0L1273.6 843.7L1275.6 842.5L1277.6 841.3L1279.6 840.1L1281.6 838.9L1283.6 837.7L1285.6 836.5L1287.6 835.3L1289.6 834.1L1291.6 832.9L1293.6 831.7L1295.6 830.5L1297.6 829.3L1299.6 828.1L1301.6 826.9L1303.6 825.7L1305.6 824.5L1307.6 823.3L1309.6 822.1L1311.6 820.9L1313.6 819.7L1315.6 818.5L1317.6 817.3L1319.6 816.1L1321.6 815.0L1323.6 813.8L1325.6 812.6L1327.6 811.4L1329.6 810.2L1331.6 809.1L1333.6 807.9L1335.6 806.7L1337.6 805.6L1339.6 804.4L1341.6 803.3L1343.6 802.1L1345.6 801.0L1347.6 799.9L1349.6 798.7L1351.6 797.6L1353.6 796.5L1355.6 795.4L1357.6 794.2L1359.6 793.1L1361.6 792.0L1363.6 791.0L1365.6 789.9L1367.6 788.8L1369.6 787.7L1371.6 786.6L1373.6 785.6L1375.6 784.5L1377.6 783.5L1379.6 782.4L1381.6 781.4L1383.6 780.4L1385.6 779.4L1387.6 778.4L1389.6 777.4L1391.6 776.4L1393.6 775.4L1395.6 774.4L1397.6 773.4L1399.6 772.5L1401.6 771.5L1403.6 770.6L1405.6 769.6L1407.6 768.7L1409.6 767.8L1411.6 766.9L1413.6 766.0L1415.6 765.1L1417.6 764.2L1419.6 763.3L1421.6 762.5L1423.6 761.6L1425.6 760.8L1427.6 759.9L1429.6 759.1L1431.6 758.3L1433.6 757.5L1435.6 756.7L1437.6 755.9L1439.6 755.1L1441.6 754.4L1443.6 753.6L1445.6 752.9L1447.6 752.1L1449.6 751.4L1451.6 750.7L1453.0 750.2" stroke="#c862ad" stroke-width="2.1"/>
<path d="M203.6 1051.6L205.6 1051.6L207.6 1051.6L209.6 1051.6L211.6 1051.6L213.6 1051.6L215.6 1051.6L217.6 1051.6L219.6 1051.6L221.6 1051.6L223.6 1051.6L225.6 1051.6L227.6 1051.6L229.6 1051.6L231.6 1051.6L233.6 1051.5L235.6 1051.5L237.6 1051.5L239.6 1051.5L241.6 1051.5L243.6 1051.5L245.6 1051.5L247.6 1051.5L249.6 1051.5L251.6 1051.5L253.6 1051.5L255.6 1051.5L257.6 1051.5L259.6 1051.5L261.6 1051.5L263.6 1051.5L265.6 1051.5L267.6 1051.5L269.6 1051.5L271.6 1051.5L273.6 1051.5L275.6 1051.5L277.6 1051.5L279.6 1051.5L281.6 1051.5L283.6 1051.5L285.6 1051.5L287.6 1051.5L289.6 1051.5L291.6 1051.5L293.6 1051.5L295.6 1051.5L297.6 1051.5L299.6 1051.5L301.6 1051.5L303.6 1051.5L305.6 1051.5L307.6 1051.5L309.6 1051.5L311.6 1051.5L313.6 1051.5L315.6 1051.5L317.6 1051.5L319.6 1051.5L321.6 1051.5L323.6 1051.5L325.6 1051.5L327.6 1051.5L329.6 1051.5L331.6 1051.5L333.6 1051.5L335.6 1051.5L337.6 1051.5L339.6 1051.5L341.6 1051.5L343.6 1051.5L345.6 1051.4L347.6 1051.4L349.6 1051.4L351.6 1051.4L353.6 1051.4L355.6 1051.4L357.6 1051.4L359.6 1051.4L361.6 1051.4L363.6 1051.4L365.6 1051.4L367.6 1051.4L369.6 1051.4L371.6 1051.4L373.6 1051.4L375.6 1051.4L377.6 1051.4L379.6 1051.4L381.6 1051.4L383.6 1051.4L385.6 1051.4L387.6 1051.4L389.6 1051.4L391.6 1051.4L393.6 1051.4L395.6 1051.4L397.6 1051.4L399.6 1051.4L401.6 1051.4L403.6 1051.3L405.6 1051.3L407.6 1051.3L409.6 1051.3L411.6 1051.3L413.6 1051.3L415.6 1051.3L417.6 1051.3L419.6 1051.3L421.6 1051.3L423.6 1051.3L425.6 1051.3L427.6 1051.2L429.6 1051.2L431.6 1051.2L433.6 1051.2L435.6 1051.2L437.6 1051.2L439.6 1051.2L441.6 1051.2L443.6 1051.1L445.6 1051.1L447.6 1051.1L449.6 1051.1L451.6 1051.1L453.6 1051.1L455.6 1051.1L457.6 1051.0L459.6 1051.0L461.6 1051.0L463.6 1051.0L465.6 1051.0L467.6 1051.0L469.6 1050.9L471.6 1050.9L473.6 1050.9L475.6 1050.9L477.6 1050.9L479.6 1050.8L481.6 1050.8L483.6 1050.8L485.6 1050.8L487.6 1050.7L489.6 1050.7L491.6 1050.7L493.6 1050.7L495.6 1050.6L497.6 1050.6L499.6 1050.6L501.6 1050.6L503.6 1050.5L505.6 1050.5L507.6 1050.5L509.6 1050.4L511.6 1050.4L513.6 1050.4L515.6 1050.3L517.6 1050.3L519.6 1050.3L521.6 1050.2L523.6 1050.2L525.6 1050.2L527.6 1050.1L529.6 1050.1L531.6 1050.1L533.6 1050.0L535.6 1050.0L537.6 1050.0L539.6 1049.9L541.6 1049.9L543.6 1049.8L545.6 1049.8L547.6 1049.7L549.6 1049.7L551.6 1049.7L553.6 1049.6L555.6 1049.6L557.6 1049.5L559.6 1049.5L561.6 1049.4L563.6 1049.4L565.6 1049.3L567.6 1049.3L569.6 1049.2L571.6 1049.2L573.6 1049.1L575.6 1049.1L577.6 1049.0L579.6 1049.0L581.6 1048.9L583.6 1048.8L585.6 1048.8L587.6 1048.7L589.6 1048.7L591.6 1048.6L593.6 1048.5L595.6 1048.5L597.6 1048.4L599.6 1048.4L601.6 1048.3L603.6 1048.2L605.6 1048.2L607.6 1048.1L609.6 1048.0L611.6 1048.0L613.6 1047.9L615.6 1047.8L617.6 1047.7L619.6 1047.7L621.6 1047.6L623.6 1047.5L625.6 1047.4L627.6 1047.4L629.6 1047.3L631.6 1047.2L633.6 1047.1L635.6 1047.0L637.6 1047.0L639.6 1046.9L641.6 1046.8L643.6 1046.7L645.6 1046.6L647.6 1046.5L649.6 1046.5L651.6 1046.4L653.6 1046.3L655.6 1046.2L657.6 1046.1L659.6 1046.0L661.6 1045.9L663.6 1045.8L665.6 1045.7L667.6 1045.6L669.6 1045.5L671.6 1045.4L673.6 1045.3L675.6 1045.2L677.6 1045.1L679.6 1045.0L681.6 1044.9L683.6 1044.8L685.6 1044.7L687.6 1044.6L689.6 1044.5L691.6 1044.3L693.6 1044.2L695.6 1044.1L697.6 1044.0L699.6 1043.9L701.6 1043.8L703.6 1043.7L705.6 1043.5L707.6 1043.4L709.6 1043.3L711.6 1043.2L713.6 1043.0L715.6 1042.9L717.6 1042.8L719.6 1042.6L721.6 1042.5L723.6 1042.4L725.6 1042.2L727.6 1042.1L729.6 1042.0L731.6 1041.8L733.6 1041.7L735.6 1041.5L737.6 1041.3L739.6 1041.2L741.6 1041.0L743.6 1040.9L745.6 1040.7L747.6 1040.5L749.6 1040.4L751.6 1040.2L753.6 1040.0L755.6 1039.8L757.6 1039.6L759.6 1039.4L761.6 1039.2L763.6 1039.0L765.6 1038.8L767.6 1038.6L769.6 1038.4L771.6 1038.2L773.6 1038.0L775.6 1037.8L777.6 1037.5L779.6 1037.3L781.6 1037.1L783.6 1036.8L785.6 1036.6L787.6 1036.3L789.6 1036.1L791.6 1035.8L793.6 1035.5L795.6 1035.2L797.6 1035.0L799.6 1034.7L801.6 1034.4L803.6 1034.1L805.6 1033.8L807.6 1033.5L809.6 1033.2L811.6 1032.8L813.6 1032.5L815.6 1032.2L817.6 1031.8L819.6 1031.5L821.6 1031.1L823.6 1030.8L825.6 1030.4L827.6 1030.0L829.6 1029.6L831.6 1029.3L833.6 1028.9L835.6 1028.5L837.6 1028.0L839.6 1027.6L841.6 1027.2L843.6 1026.8L845.6 1026.4L847.6 1025.9L849.6 1025.5L851.6 1025.1L853.6 1024.6L855.6 1024.2L857.6 1023.7L859.6 1023.2L861.6 1022.8L863.6 1022.3L865.6 1021.9L867.6 1021.4L869.6 1020.9L871.6 1020.4L873.6 1020.0L875.6 1019.5L877.6 1019.0L879.6 1018.5L881.6 1018.0L883.6 1017.5L885.6 1017.1L887.6 1016.6L889.6 1016.1L891.6 1015.6L893.6 1015.1L895.6 1014.6L897.6 1014.1L899.6 1013.6L901.6 1013.1L903.6 1012.6L905.6 1012.1L907.6 1011.6L909.6 1011.0L911.6 1010.5L913.6 1010.0L915.6 1009.5L917.6 1009.0L919.6 1008.4L921.6 1007.9L923.6 1007.4L925.6 1006.8L927.6 1006.3L929.6 1005.7L931.6 1005.2L933.6 1004.6L935.6 1004.1L937.6 1003.5L939.6 1002.9L941.6 1002.4L943.6 1001.8L945.6 1001.2L947.6 1000.6L949.6 1000.0L951.6 999.4L953.6 998.8L955.6 998.2L957.6 997.6L959.6 997.0L961.6 996.4L963.6 995.8L965.6 995.1L967.6 994.5L969.6 993.9L971.6 993.2L973.6 992.6L975.6 991.9L977.6 991.2L979.6 990.6L981.6 989.9L983.6 989.2L985.6 988.5L987.6 987.8L989.6 987.1L991.6 986.4L993.6 985.7L995.6 985.0L997.6 984.2L999.6 983.5L1001.6 982.8L1003.6 982.0L1005.6 981.3L1007.6 980.5L1009.6 979.7L1011.6 979.0L1013.6 978.2L1015.6 977.4L1017.6 976.6L1019.6 975.8L1021.6 975.0L1023.6 974.2L1025.6 973.4L1027.6 972.6L1029.6 971.7L1031.6 970.9L1033.6 970.0L1035.6 969.2L1037.6 968.3L1039.6 967.5L1041.6 966.6L1043.6 965.8L1045.6 964.9L1047.6 964.0L1049.6 963.1L1051.6 962.2L1053.6 961.3L1055.6 960.4L1057.6 959.5L1059.6 958.6L1061.6 957.7L1063.6 956.8L1065.6 955.9L1067.6 954.9L1069.6 954.0L1071.6 953.0L1073.6 952.1L1075.6 951.2L1077.6 950.2L1079.6 949.2L1081.6 948.3L1083.6 947.3L1085.6 946.4L1087.6 945.4L1089.6 944.4L1091.6 943.4L1093.6 942.4L1095.6 941.4L1097.6 940.5L1099.6 939.5L1101.6 938.5L1103.6 937.5L1105.6 936.5L1107.6 935.4L1109.6 934.4L1111.6 933.4L1113.6 932.4L1115.6 931.4L1117.6 930.3L1119.6 929.3L1121.6 928.3L1123.6 927.3L1125.6 926.2L1127.6 925.2L1129.6 924.1L1131.6 923.1L1133.6 922.0L1135.6 921.0L1137.6 919.9L1139.6 918.9L1141.6 917.8L1143.6 916.8L1145.6 915.7L1147.6 914.6L1149.6 913.6L1151.6 912.5L1153.6 911.4L1155.6 910.4L1157.6 909.3L1159.6 908.2L1161.6 907.1L1163.6 906.1L1165.6 905.0L1167.6 903.9L1169.6 902.8L1171.6 901.7L1173.6 900.6L1175.6 899.6L1177.6 898.5L1179.6 897.4L1181.6 896.3L1183.6 895.2L1185.6 894.1L1187.6 893.0L1189.6 891.9L1191.6 890.8L1193.6 889.7L1195.6 888.6L1197.6 887.5L1199.6 886.4L1201.6 885.3L1203.6 884.2L1205.6 883.1L1207.6 881.9L1209.6 880.8L1211.6 879.7L1213.6 878.6L1215.6 877.5L1217.6 876.3L1219.6 875.2L1221.6 874.1L1223.6 872.9L1225.6 871.8L1227.6 870.7L1229.6 869.5L1231.6 868.4L1233.6 867.2L1235.6 866.1L1237.6 864.9L1239.6 863.8L1241.6 862.6L1243.6 861.5L1245.6 860.3L1247.6 859.1L1249.6 858.0L1251.6 856.8L1253.6 855.6L1255.6 854.4L1257.6 853.3L1259.6 852.1L1261.6 850.9L1263.6 849.7L1265.6 848.5L1267.6 847.3L1269.6 846.1L1271.6 844.9L1273.6 843.7L1275.6 842.5L1277.6 841.3L1279.6 840.1L1281.6 838.9L1283.6 837.7L1285.6 836.5L1287.6 835.3L1289.6 834.1L1291.6 832.9L1293.6 831.7L1295.6 830.5L1297.6 829.3L1299.6 828.1L1301.6 826.9L1303.6 825.7L1305.6 824.5L1307.6 823.3L1309.6 822.1L1311.6 820.9L1313.6 819.7L1315.6 818.5L1317.6 817.3L1319.6 816.1L1321.6 815.0L1323.6 813.8L1325.6 812.6L1327.6 811.4L1329.6 810.2L1331.6 809.1L1333.6 807.9L1335.6 806.7L1337.6 805.6L1339.6 804.4L1341.6 803.3L1343.6 802.1L1345.6 801.0L1347.6 799.9L1349.6 798.7L1351.6 797.6L1353.6 796.5L1355.6 795.4L1357.6 794.2L1359.6 793.1L1361.6 792.0L1363.6 791.0L1365.6 789.9L1367.6 788.8L1369.6 787.7L1371.6 786.6L1373.6 785.6L1375.6 784.5L1377.6 783.5L1379.6 782.4L1381.6 781.4L1383.6 780.4L1385.6 779.4L1387.6 778.4L1389.6 777.4L1391.6 776.4L1393.6 775.4L1395.6 774.4L1397.6 773.4L1399.6 772.5L1401.6 771.5L1403.6 770.6L1405.6 769.6L1407.6 768.7L1409.6 767.8L1411.6 766.9L1413.6 766.0L1415.6 765.1L1417.6 764.2L1419.6 763.3L1421.6 762.5L1423.6 761.6L1425.6 760.8L1427.6 759.9L1429.6 759.1L1431.6 758.3L1433.6 757.5L1435.6 756.7L1437.6 755.9L1439.6 755.1L1441.6 754.4L1443.6 753.6L1445.6 752.9L1447.6 752.1L1449.6 751.4L1451.6 750.7L1453.0 750.2" stroke="#c862ad" stroke-width="2.1"/>
<path d="M203.6 1051.3L205.6 1051.3L207.6 1051.3L209.6 1051.3L211.6 1051.3L213.6 1051.3L215.6 1051.3L217.6 1051.3L219.6 1051.2L221.6 1051.2L223.6 1051.2L225.6 1051.2L227.6 1051.2L229.6 1051.2L231.6 1051.2L233.6 1051.2L235.6 1051.2L237.6 1051.2L239.6 1051.2L241.6 1051.2L243.6 1051.2L245.6 1051.2L247.6 1051.1L249.6 1051.1L251.6 1051.1L253.6 1051.1L255.6 1051.1L257.6 1051.1L259.6 1051.1L261.6 1051.1L263.6 1051.1L265.6 1051.1L267.6 1051.1L269.6 1051.1L271.6 1051.1L273.6 1051.1L275.6 1051.1L277.6 1051.1L279.6 1051.1L281.6 1051.1L283.6 1051.1L285.6 1051.1L287.6 1051.1L289.6 1051.1L291.6 1051.1L293.6 1051.1L295.6 1051.1L297.6 1051.1L299.6 1051.1L301.6 1051.1L303.6 1051.1L305.6 1051.1L307.6 1051.1L309.6 1051.1L311.6 1051.1L313.6 1051.1L315.6 1051.1L317.6 1051.1L319.6 1051.1L321.6 1051.1L323.6 1051.1L325.6 1051.1L327.6 1051.1L329.6 1051.1L331.6 1051.1L333.6 1051.1L335.6 1051.1L337.6 1051.1L339.6 1051.1L341.6 1051.1L343.6 1051.1L345.6 1051.1L347.6 1051.1L349.6 1051.1L351.6 1051.1L353.6 1051.1L355.6 1051.1L357.6 1051.1L359.6 1051.1L361.6 1051.1L363.6 1051.0L365.6 1051.0L367.6 1051.0L369.6 1051.0L371.6 1051.0L373.6 1051.0L375.6 1051.0L377.6 1051.0L379.6 1051.0L381.6 1050.9L383.6 1050.9L385.6 1050.9L387.6 1050.9L389.6 1050.9L391.6 1050.9L393.6 1050.8L395.6 1050.8L397.6 1050.8L399.6 1050.8L401.6 1050.7L403.6 1050.7L405.6 1050.7L407.6 1050.7L409.6 1050.6L411.6 1050.6L413.6 1050.6L415.6 1050.6L417.6 1050.5L419.6 1050.5L421.6 1050.5L423.6 1050.4L425.6 1050.4L427.6 1050.4L429.6 1050.3L431.6 1050.3L433.6 1050.2L435.6 1050.2L437.6 1050.2L439.6 1050.1L441.6 1050.1L443.6 1050.0L445.6 1050.0L447.6 1049.9L449.6 1049.9L451.6 1049.8L453.6 1049.8L455.6 1049.7L457.6 1049.7L459.6 1049.6L461.6 1049.5L463.6 1049.5L465.6 1049.4L467.6 1049.4L469.6 1049.3L471.6 1049.2L473.6 1049.2L475.6 1049.1L477.6 1049.0L479.6 1049.0L481.6 1048.9L483.6 1048.8L485.6 1048.7L487.6 1048.7L489.6 1048.6L491.6 1048.5L493.6 1048.4L495.6 1048.3L497.6 1048.2L499.6 1048.1L501.6 1048.1L503.6 1048.0L505.6 1047.9L507.6 1047.8L509.6 1047.7L511.6 1047.6L513.6 1047.5L515.6 1047.4L517.6 1047.3L519.6 1047.2L521.6 1047.1L523.6 1046.9L525.6 1046.8L527.6 1046.7L529.6 1046.6L531.6 1046.5L533.6 1046.4L535.6 1046.2L537.6 1046.1L539.6 1046.0L541.6 1045.8L543.6 1045.7L545.6 1045.6L547.6 1045.4L549.6 1045.3L551.6 1045.1L553.6 1045.0L555.6 1044.8L557.6 1044.7L559.6 1044.5L561.6 1044.4L563.6 1044.2L565.6 1044.0L567.6 1043.9L569.6 1043.7L571.6 1043.5L573.6 1043.4L575.6 1043.2L577.6 1043.0L579.6 1042.8L581.6 1042.6L583.6 1042.4L585.6 1042.2L587.6 1042.0L589.6 1041.8L591.6 1041.6L593.6 1041.4L595.6 1041.2L597.6 1040.9L599.6 1040.7L601.6 1040.5L603.6 1040.2L605.6 1040.0L607.6 1039.8L609.6 1039.5L611.6 1039.3L613.6 1039.0L615.6 1038.8L617.6 1038.5L619.6 1038.2L621.6 1037.9L623.6 1037.7L625.6 1037.4L627.6 1037.1L629.6 1036.8L631.6 1036.5L633.6 1036.2L635.6 1035.9L637.6 1035.6L639.6 1035.3L641.6 1035.0L643.6 1034.6L645.6 1034.3L647.6 1034.0L649.6 1033.6L651.6 1033.3L653.6 1032.9L655.6 1032.6L657.6 1032.2L659.6 1031.8L661.6 1031.5L663.6 1031.1L665.6 1030.7L667.6 1030.3L669.6 1029.9L671.6 1029.5L673.6 1029.1L675.6 1028.7L677.6 1028.3L679.6 1027.8L681.6 1027.4L683.6 1027.0L685.6 1026.5L687.6 1026.1L689.6 1025.6L691.6 1025.1L693.6 1024.7L695.6 1024.2L697.6 1023.7L699.6 1023.2L701.6 1022.7L703.6 1022.2L705.6 1021.7L707.6 1021.2L709.6 1020.7L711.6 1020.1L713.6 1019.6L715.6 1019.1L717.6 1018.5L719.6 1017.9L721.6 1017.4L723.6 1016.8L725.6 1016.2L727.6 1015.6L729.6 1015.1L731.6 1014.5L733.6 1013.8L735.6 1013.2L737.6 1012.6L739.6 1012.0L741.6 1011.3L743.6 1010.7L745.6 1010.0L747.6 1009.4L749.6 1008.7L751.6 1008.0L753.6 1007.3L755.6 1006.6L757.6 1005.9L759.6 1005.2L761.6 1004.5L763.6 1003.8L765.6 1003.1L767.6 1002.3L769.6 1001.6L771.6 1000.8L773.6 1000.0L775.6 999.3L777.6 998.5L779.6 997.7L781.6 996.9L783.6 996.1L785.6 995.3L787.6 994.4L789.6 993.6L791.6 992.7L793.6 991.9L795.6 991.0L797.6 990.1L799.6 989.3L801.6 988.4L803.6 987.5L805.6 986.6L807.6 985.6L809.6 984.7L811.6 983.8L813.6 982.8L815.6 981.9L817.6 980.9L819.6 979.9L821.6 978.9L823.6 978.0L825.6 977.0L827.6 975.9L829.6 974.9L831.6 973.9L833.6 972.8L835.6 971.8L837.6 970.7L839.6 969.6L841.6 968.6L843.6 967.5L845.6 966.4L847.6 965.2L849.6 964.1L851.6 963.0L853.6 961.8L855.6 960.7L857.6 959.5L859.6 958.3L861.6 957.1L863.6 955.9L865.6 954.7L867.6 953.5L869.6 952.3L871.6 951.0L873.6 949.8L875.6 948.5L877.6 947.2L879.6 946.0L881.6 944.7L883.6 943.4L885.6 942.0L887.6 940.7L889.6 939.4L891.6 938.0L893.6 936.7L895.6 935.3L897.6 933.9L899.6 932.5L901.6 931.1L903.6 929.7L905.6 928.2L907.6 926.8L909.6 925.3L911.6 923.9L913.6 922.4L915.6 920.9L917.6 919.4L919.6 917.9L921.6 916.4L923.6 914.8L925.6 913.3L927.6 911.7L929.6 910.2L931.6 908.6L933.6 907.0L935.6 905.4L937.6 903.7L939.6 902.1L941.6 900.5L943.6 898.8L945.6 897.1L947.6 895.5L949.6 893.8L951.6 892.1L953.6 890.3L955.6 888.6L957.6 886.9L959.6 885.1L961.6 883.3L963.6 881.5L965.6 879.8L967.6 877.9L969.6 876.1L971.6 874.3L973.6 872.4L975.6 870.6L977.6 868.7L979.6 866.8L981.6 864.9L983.6 863.0L985.6 861.1L987.6 859.2L989.6 857.2L991.6 855.2L993.6 853.3L995.6 851.3L997.6 849.3L999.6 847.2L1001.6 845.2L1003.6 843.2L1005.6 841.1L1007.6 839.0L1009.6 836.9L1011.6 834.8L1013.6 832.7L1015.6 830.6L1017.6 828.5L1019.6 826.3L1021.6 824.1L1023.6 822.0L1025.6 819.8L1027.6 817.6L1029.6 815.3L1031.6 813.1L1033.6 810.8L1035.6 808.6L1037.6 806.3L1039.6 804.0L1041.6 801.7L1043.6 799.4L1045.6 797.0L1047.6 794.7L1049.6 792.3L1051.6 789.9L1053.6 787.5L1055.6 785.1L1057.6 782.7L1059.6 780.2L1061.6 777.8L1063.6 775.3L1065.6 772.8L1067.6 770.3L1069.6 767.8L1071.6 765.3L1073.6 762.7L1075.6 760.2L1077.6 757.6L1079.6 755.0L1081.6 752.4L1083.6 749.8L1085.6 747.1L1087.6 744.5L1089.6 741.8L1091.6 739.1L1093.6 736.4L1095.6 733.7L1097.6 731.0L1099.6 728.3L1101.6 725.5L1103.6 722.7L1105.6 719.9L1107.6 717.1L1109.6 714.3L1111.6 711.5L1113.6 708.6L1115.6 705.7L1117.6 702.9L1119.6 700.0L1121.6 697.0L1123.6 694.1L1125.6 691.2L1127.6 688.2L1129.6 685.2L1131.6 682.2L1133.6 679.2L1135.6 676.2L1137.6 673.1L1139.6 670.0L1141.6 667.0L1143.6 663.9L1145.6 660.8L1147.6 657.6L1149.6 654.5L1151.6 651.3L1153.6 648.1L1155.6 644.9L1157.6 641.7L1159.6 638.5L1161.6 635.3L1163.6 632.0L1165.6 628.8L1167.6 625.5L1169.6 622.2L1171.6 618.9L1173.6 615.5L1175.6 612.2L1177.6 608.9L1179.6 605.5L1181.6 602.1L1183.6 598.8L1185.6 595.4L1187.6 592.0L1189.6 588.6L1191.6 585.1L1193.6 581.7L1195.6 578.3L1197.6 574.8L1199.6 571.3L1201.6 567.9L1203.6 564.4L1205.6 560.9L1207.6 557.4L1209.6 553.9L1211.6 550.4L1213.6 546.9L1215.6 543.4L1217.6 539.9L1219.6 536.3L1221.6 532.8L1223.6 529.3L1225.6 525.7L1227.6 522.2L1229.6 518.6L1231.6 515.1L1233.6 511.5L1235.6 508.0L1237.6 504.4L1239.6 500.8L1241.6 497.3L1243.6 493.7L1245.6 490.2L1247.6 486.6L1249.6 483.0L1251.6 479.5L1253.6 475.9L1255.6 472.3L1257.6 468.7L1259.6 465.2L1261.6 461.6L1263.6 458.1L1265.6 454.5L1267.6 450.9L1269.6 447.4L1271.6 443.8L1273.6 440.3L1275.6 436.7L1277.6 433.2L1279.6 429.6L1281.6 426.1L1283.6 422.6L1285.6 419.1L1287.6 415.6L1289.6 412.0L1291.6 408.5L1293.6 405.0L1295.6 401.5L1297.6 398.1L1299.6 394.6L1301.6 391.1L1303.6 387.7L1305.6 384.2L1307.6 380.8L1309.6 377.4L1311.6 374.0L1313.6 370.6L1315.6 367.2L1317.6 363.8L1319.6 360.4L1321.6 357.1L1323.6 353.8L1325.6 350.5L1327.6 347.2L1329.6 343.9L1331.6 340.7L1333.6 337.5L1335.6 334.3L1337.6 331.1L1339.6 327.9L1341.6 324.8L1343.6 321.7L1345.6 318.6L1347.6 315.6L1349.6 312.6L1351.6 309.6L1353.6 306.6L1355.6 303.7L1357.6 300.7L1359.6 297.9L1361.6 295.0L1363.6 292.3L1365.6 289.5L1367.6 286.8L1369.6 284.1L1371.6 281.5L1373.6 278.8L1375.6 276.3L1377.6 273.7L1379.6 271.2L1381.6 268.7L1383.6 266.2L1385.6 263.8L1387.6 261.4L1389.6 259.0L1391.6 256.7L1393.6 254.4L1395.6 252.1L1397.6 249.8L1399.6 247.6L1401.6 245.3L1403.6 243.0L1405.6 240.8L1407.6 238.6L1409.6 236.3L1411.6 234.1L1413.6 231.9L1415.6 229.7L1417.6 227.5L1419.6 225.3L1421.6 223.1L1423.6 220.8L1425.6 218.6L1427.6 216.3L1429.6 214.0L1431.6 211.7L1433.6 209.4L1435.6 207.1L1437.6 204.8L1439.6 202.4L1441.6 200.0L1443.6 197.6L1445.6 195.2L1447.6 192.7L1449.6 190.2L1451.6 187.6L1453.3 185.4" stroke="#e82d3b" stroke-width="2.1"/>
<path d="M203.6 1051.3L205.6 1051.3L207.6 1051.3L209.6 1051.3L211.6 1051.3L213.6 1051.3L215.6 1051.3L217.6 1051.3L219.6 1051.3L221.6 1051.2L223.6 1051.2L225.6 1051.2L227.6 1051.2L229.6 1051.2L231.6 1051.2L233.6 1051.2L235.6 1051.2L237.6 1051.2L239.6 1051.2L241.6 1051.2L243.6 1051.2L245.6 1051.2L247.6 1051.2L249.6 1051.2L251.6 1051.2L253.6 1051.2L255.6 1051.2L257.6 1051.2L259.6 1051.2L261.6 1051.2L263.6 1051.2L265.6 1051.2L267.6 1051.2L269.6 1051.2L271.6 1051.2L273.6 1051.2L275.6 1051.2L277.6 1051.2L279.6 1051.2L281.6 1051.2L283.6 1051.2L285.6 1051.2L287.6 1051.2L289.6 1051.2L291.6 1051.2L293.6 1051.2L295.6 1051.2L297.6 1051.2L299.6 1051.2L301.6 1051.2L303.6 1051.2L305.6 1051.2L307.6 1051.2L309.6 1051.2L311.6 1051.2L313.6 1051.2L315.6 1051.1L317.6 1051.1L319.6 1051.1L321.6 1051.1L323.6 1051.1L325.6 1051.1L327.6 1051.1L329.6 1051.1L331.6 1051.1L333.6 1051.1L335.6 1051.1L337.6 1051.1L339.6 1051.1L341.6 1051.1L343.6 1051.1L345.6 1051.1L347.6 1051.1L349.6 1051.1L351.6 1051.1L353.6 1051.1L355.6 1051.1L357.6 1051.1L359.6 1051.0L361.6 1051.0L363.6 1051.0L365.6 1051.0L367.6 1051.0L369.6 1051.0L371.6 1051.0L373.6 1051.0L375.6 1050.9L377.6 1050.9L379.6 1050.9L381.6 1050.9L383.6 1050.9L385.6 1050.9L387.6 1050.9L389.6 1050.8L391.6 1050.8L393.6 1050.8L395.6 1050.8L397.6 1050.8L399.6 1050.7L401.6 1050.7L403.6 1050.7L405.6 1050.7L407.6 1050.6L409.6 1050.6L411.6 1050.6L413.6 1050.5L415.6 1050.5L417.6 1050.5L419.6 1050.5L421.6 1050.4L423.6 1050.4L425.6 1050.4L427.6 1050.3L429.6 1050.3L431.6 1050.2L433.6 1050.2L435.6 1050.2L437.6 1050.1L439.6 1050.1L441.6 1050.0L443.6 1050.0L445.6 1049.9L447.6 1049.9L449.6 1049.8L451.6 1049.8L453.6 1049.7L455.6 1049.7L457.6 1049.6L459.6 1049.6L461.6 1049.5L463.6 1049.5L465.6 1049.4L467.6 1049.4L469.6 1049.3L471.6 1049.2L473.6 1049.2L475.6 1049.1L477.6 1049.0L479.6 1049.0L481.6 1048.9L483.6 1048.8L485.6 1048.8L487.6 1048.7L489.6 1048.6L491.6 1048.5L493.6 1048.5L495.6 1048.4L497.6 1048.3L499.6 1048.2L501.6 1048.1L503.6 1048.0L505.6 1047.9L507.6 1047.8L509.6 1047.8L511.6 1047.7L513.6 1047.6L515.6 1047.5L517.6 1047.3L519.6 1047.2L521.6 1047.1L523.6 1047.0L525.6 1046.9L527.6 1046.8L529.6 1046.7L531.6 1046.5L533.6 1046.4L535.6 1046.3L537.6 1046.2L539.6 1046.0L541.6 1045.9L543.6 1045.7L545.6 1045.6L547.6 1045.5L549.6 1045.3L551.6 1045.1L553.6 1045.0L555.6 1044.8L557.6 1044.7L559.6 1044.5L561.6 1044.3L563.6 1044.1L565.6 1044.0L567.6 1043.8L569.6 1043.6L571.6 1043.4L573.6 1043.2L575.6 1043.0L577.6 1042.8L579.6 1042.6L581.6 1042.4L583.6 1042.2L585.6 1042.0L587.6 1041.7L589.6 1041.5L591.6 1041.3L593.6 1041.0L595.6 1040.8L597.6 1040.6L599.6 1040.3L601.6 1040.1L603.6 1039.8L605.6 1039.5L607.6 1039.3L609.6 1039.0L611.6 1038.7L613.6 1038.4L615.6 1038.1L617.6 1037.8L619.6 1037.5L621.6 1037.2L623.6 1036.9L625.6 1036.6L627.6 1036.3L629.6 1036.0L631.6 1035.6L633.6 1035.3L635.6 1035.0L637.6 1034.6L639.6 1034.3L641.6 1033.9L643.6 1033.5L645.6 1033.2L647.6 1032.8L649.6 1032.4L651.6 1032.0L653.6 1031.6L655.6 1031.2L657.6 1030.8L659.6 1030.4L661.6 1030.0L663.6 1029.5L665.6 1029.1L667.6 1028.7L669.6 1028.2L671.6 1027.8L673.6 1027.3L675.6 1026.8L677.6 1026.4L679.6 1025.9L681.6 1025.4L683.6 1024.9L685.6 1024.4L687.6 1023.9L689.6 1023.4L691.6 1022.9L693.6 1022.3L695.6 1021.8L697.6 1021.3L699.6 1020.7L701.6 1020.1L703.6 1019.6L705.6 1019.0L707.6 1018.4L709.6 1017.8L711.6 1017.3L713.6 1016.6L715.6 1016.0L717.6 1015.4L719.6 1014.8L721.6 1014.2L723.6 1013.5L725.6 1012.9L727.6 1012.2L729.6 1011.6L731.6 1010.9L733.6 1010.2L735.6 1009.5L737.6 1008.8L739.6 1008.1L741.6 1007.4L743.6 1006.7L745.6 1006.0L747.6 1005.2L749.6 1004.5L751.6 1003.7L753.6 1003.0L755.6 1002.2L757.6 1001.4L759.6 1000.6L761.6 999.8L763.6 999.0L765.6 998.2L767.6 997.4L769.6 996.6L771.6 995.7L773.6 994.9L775.6 994.0L777.6 993.2L779.6 992.3L781.6 991.4L783.6 990.5L785.6 989.6L787.6 988.7L789.6 987.8L791.6 986.9L793.6 985.9L795.6 985.0L797.6 984.0L799.6 983.1L801.6 982.1L803.6 981.1L805.6 980.1L807.6 979.1L809.6 978.1L811.6 977.1L813.6 976.1L815.6 975.0L817.6 974.0L819.6 972.9L821.6 971.9L823.6 970.8L825.6 969.7L827.6 968.6L829.6 967.5L831.6 966.4L833.6 965.3L835.6 964.1L837.6 963.0L839.6 961.8L841.6 960.6L843.6 959.5L845.6 958.3L847.6 957.1L849.6 955.9L851.6 954.7L853.6 953.4L855.6 952.2L857.6 951.0L859.6 949.7L861.6 948.4L863.6 947.2L865.6 945.9L867.6 944.6L869.6 943.3L871.6 941.9L873.6 940.6L875.6 939.3L877.6 937.9L879.6 936.6L881.6 935.2L883.6 933.8L885.6 932.4L887.6 931.0L889.6 929.6L891.6 928.2L893.6 926.7L895.6 925.3L897.6 923.8L899.6 922.3L901.6 920.8L903.6 919.4L905.6 917.8L907.6 916.3L909.6 914.8L911.6 913.3L913.6 911.7L915.6 910.1L917.6 908.6L919.6 907.0L921.6 905.4L923.6 903.8L925.6 902.2L927.6 900.5L929.6 898.9L931.6 897.2L933.6 895.6L935.6 893.9L937.6 892.2L939.6 890.5L941.6 888.8L943.6 887.1L945.6 885.3L947.6 883.6L949.6 881.8L951.6 880.0L953.6 878.2L955.6 876.4L957.6 874.6L959.6 872.8L961.6 871.0L963.6 869.1L965.6 867.3L967.6 865.4L969.6 863.5L971.6 861.6L973.6 859.7L975.6 857.8L977.6 855.8L979.6 853.9L981.6 851.9L983.6 849.9L985.6 848.0L987.6 846.0L989.6 844.0L991.6 841.9L993.6 839.9L995.6 837.8L997.6 835.8L999.6 833.7L1001.6 831.6L1003.6 829.5L1005.6 827.4L1007.6 825.3L1009.6 823.1L1011.6 821.0L1013.6 818.8L1015.6 816.6L1017.6 814.4L1019.6 812.2L1021.6 810.0L1023.6 807.7L1025.6 805.5L1027.6 803.2L1029.6 800.9L1031.6 798.7L1033.6 796.3L1035.6 794.0L1037.6 791.7L1039.6 789.3L1041.6 787.0L1043.6 784.6L1045.6 782.2L1047.6 779.8L1049.6 777.4L1051.6 775.0L1053.6 772.5L1055.6 770.1L1057.6 767.6L1059.6 765.1L1061.6 762.6L1063.6 760.1L1065.6 757.6L1067.6 755.0L1069.6 752.5L1071.6 749.9L1073.6 747.3L1075.6 744.7L1077.6 742.1L1079.6 739.5L1081.6 736.8L1083.6 734.2L1085.6 731.5L1087.6 728.8L1089.6 726.1L1091.6 723.4L1093.6 720.6L1095.6 717.9L1097.6 715.1L1099.6 712.3L1101.6 709.6L1103.6 706.8L1105.6 703.9L1107.6 701.1L1109.6 698.3L1111.6 695.4L1113.6 692.5L1115.6 689.6L1117.6 686.7L1119.6 683.8L1121.6 680.9L1123.6 678.0L1125.6 675.0L1127.6 672.0L1129.6 669.1L1131.6 666.1L1133.6 663.1L1135.6 660.1L1137.6 657.1L1139.6 654.0L1141.6 651.0L1143.6 648.0L1145.6 644.9L1147.6 641.8L1149.6 638.8L1151.6 635.7L1153.6 632.6L1155.6 629.5L1157.6 626.4L1159.6 623.3L1161.6 620.1L1163.6 617.0L1165.6 613.9L1167.6 610.7L1169.6 607.6L1171.6 604.4L1173.6 601.2L1175.6 598.0L1177.6 594.8L1179.6 591.7L1181.6 588.5L1183.6 585.3L1185.6 582.0L1187.6 578.8L1189.6 575.6L1191.6 572.4L1193.6 569.2L1195.6 565.9L1197.6 562.7L1199.6 559.4L1201.6 556.2L1203.6 552.9L1205.6 549.7L1207.6 546.4L1209.6 543.2L1211.6 539.9L1213.6 536.6L1215.6 533.4L1217.6 530.1L1219.6 526.8L1221.6 523.5L1223.6 520.3L1225.6 517.0L1227.6 513.7L1229.6 510.4L1231.6 507.1L1233.6 503.8L1235.6 500.6L1237.6 497.3L1239.6 494.0L1241.6 490.7L1243.6 487.4L1245.6 484.1L1247.6 480.9L1249.6 477.6L1251.6 474.3L1253.6 471.0L1255.6 467.7L1257.6 464.5L1259.6 461.2L1261.6 457.9L1263.6 454.6L1265.6 451.3L1267.6 448.1L1269.6 444.8L1271.6 441.5L1273.6 438.3L1275.6 435.0L1277.6 431.7L1279.6 428.4L1281.6 425.2L1283.6 421.9L1285.6 418.6L1287.6 415.3L1289.6 412.1L1291.6 408.8L1293.6 405.5L1295.6 402.2L1297.6 398.9L1299.6 395.7L1301.6 392.4L1303.6 389.1L1305.6 385.8L1307.6 382.5L1309.6 379.2L1311.6 375.9L1313.6 372.6L1315.6 369.3L1317.6 366.0L1319.6 362.7L1321.6 359.4L1323.6 356.1L1325.6 352.8L1327.6 349.4L1329.6 346.1L1331.6 342.8L1333.6 339.4L1335.6 336.1L1337.6 332.8L1339.6 329.4L1341.6 326.1L1343.6 322.8L1345.6 319.5L1347.6 316.2L1349.6 312.9L1351.6 309.6L1353.6 306.4L1355.6 303.1L1357.6 299.8L1359.6 296.6L1361.6 293.4L1363.6 290.2L1365.6 287.1L1367.6 283.9L1369.6 280.8L1371.6 277.7L1373.6 274.6L1375.6 271.6L1377.6 268.5L1379.6 265.6L1381.6 262.6L1383.6 259.7L1385.6 256.9L1387.6 254.0L1389.6 251.2L1391.6 248.5L1393.6 245.7L1395.6 243.0L1397.6 240.4L1399.6 237.8L1401.6 235.3L1403.6 232.8L1405.6 230.4L1407.6 228.0L1409.6 225.7L1411.6 223.4L1413.6 221.2L1415.6 219.0L1417.6 216.9L1419.6 214.8L1421.6 212.7L1423.6 210.7L1425.6 208.8L1427.6 206.9L1429.6 205.0L1431.6 203.2L1433.6 201.4L1435.6 199.7L1437.6 198.0L1439.6 196.3L1441.6 194.6L1443.6 193.0L1445.6 191.3L1447.6 189.8L1449.6 188.2L1451.6 186.7L1453.3 185.4" stroke="#e82d3b" stroke-width="2.1"/>
</g>
<g fill="none" stroke="#8c8c8c" stroke-width="2.4">
<path d="M203.6 57.9 H1453.0 V1063.4 H203.6 Z"/>
<path d="M185 1051.2 H203.6"/>
<path d="M185 927.0 H203.6"/>
<path d="M185 802.9 H203.6"/>
<path d="M185 678.7 H203.6"/>
<path d="M185 554.5 H203.6"/>
<path d="M185 430.4 H203.6"/>
<path d="M185 306.2 H203.6"/>
<path d="M185 182.1 H203.6"/>
<path d="M185 57.9 H203.6"/>
<path d="M194 989.1 H203.6"/>
<path d="M194 865.0 H203.6"/>
<path d="M194 740.8 H203.6"/>
<path d="M194 616.6 H203.6"/>
<path d="M194 492.5 H203.6"/>
<path d="M194 368.3 H203.6"/>
<path d="M194 244.1 H203.6"/>
<path d="M194 120.0 H203.6"/>
<path d="M203.6 1063.4 V1083"/>
<path d="M359.8 1063.4 V1083"/>
<path d="M516.0 1063.4 V1083"/>
<path d="M672.1 1063.4 V1083"/>
<path d="M828.3 1063.4 V1083"/>
<path d="M984.5 1063.4 V1083"/>
<path d="M1140.7 1063.4 V1083"/>
<path d="M1296.8 1063.4 V1083"/>
<path d="M1453.0 1063.4 V1083"/>
<path d="M281.7 1063.4 V1073"/>
<path d="M437.9 1063.4 V1073"/>
<path d="M594.0 1063.4 V1073"/>
<path d="M750.2 1063.4 V1073"/>
<path d="M906.4 1063.4 V1073"/>
<path d="M1062.6 1063.4 V1073"/>
<path d="M1218.7 1063.4 V1073"/>
<path d="M1374.9 1063.4 V1073"/>
</g>
<g fill="#111" font-size="57">
<text x="172" y="1068.5" text-anchor="end">0</text>
<text x="172" y="944.3" text-anchor="end">2</text>
<text x="172" y="820.2" text-anchor="end">4</text>
<text x="172" y="696.0" text-anchor="end">6</text>
<text x="172" y="571.8" text-anchor="end">8</text>
<text x="172" y="447.7" text-anchor="end">10</text>
<text x="172" y="323.5" text-anchor="end">12</text>
<text x="172" y="199.4" text-anchor="end">14</text>
<text x="172" y="75.2" text-anchor="end">16</text>
<text x="203.6" y="1141.5" text-anchor="middle">-0.1</text>
<text x="359.8" y="1141.5" text-anchor="middle">0.0</text>
<text x="516.0" y="1141.5" text-anchor="middle">0.1</text>
<text x="672.1" y="1141.5" text-anchor="middle">0.2</text>
<text x="828.3" y="1141.5" text-anchor="middle">0.3</text>
<text x="984.5" y="1141.5" text-anchor="middle">0.4</text>
<text x="1140.7" y="1141.5" text-anchor="middle">0.5</text>
<text x="1296.8" y="1141.5" text-anchor="middle">0.6</text>
<text x="1453.0" y="1141.5" text-anchor="middle">0.7</text>
</g>
<g fill="#111">
<text x="751" y="1234.2" font-size="57"><tspan font-style="italic">V</tspan><tspan font-size="40" dy="15.5">G</tspan><tspan dy="-15.5" dx="-1.5"> (V)</tspan></text>
<text transform="translate(73.5,645) rotate(-90)" font-size="57"><tspan font-style="italic">I</tspan><tspan font-size="40" dy="16">D</tspan><tspan dy="-16"> (µA)</tspan></text>
</g>
<text x="217" y="115" font-size="52" fill="#111"><tspan font-style="italic">W</tspan> <tspan font-style="italic" dx="-1">/L</tspan><tspan dx="-4.5"> = 20/10 µm/µm, </tspan><tspan font-style="italic">d</tspan> = 20 nm, <tspan font-style="italic">V</tspan><tspan font-size="36" dy="14.5">D</tspan><tspan dy="-14.5"> = 0.7 V</tspan></text>
<path d="M217 171.8 H332" stroke="#3a48a4" stroke-width="2.4"/>
<text x="345" y="190.8" font-size="53" fill="#111">BBL<tspan font-size="35" dy="13">15</tspan></text>
<path d="M217 246.6 H332" stroke="#8ec3e8" stroke-width="2.4"/>
<text x="345" y="265.6" font-size="53" fill="#111">BBL<tspan font-size="35" dy="13">60</tspan></text>
<path d="M217 321.4 H332" stroke="#c878b8" stroke-width="2.4"/>
<text x="345" y="340.4" font-size="53" fill="#111">BBL<tspan font-size="35" dy="13">98</tspan></text>
<path d="M217 396.2 H332" stroke="#f0606c" stroke-width="2.4"/>
<text x="345" y="415.2" font-size="53" fill="#111">BBL<tspan font-size="35" dy="13">152</tspan></text>
</svg></body></html>
